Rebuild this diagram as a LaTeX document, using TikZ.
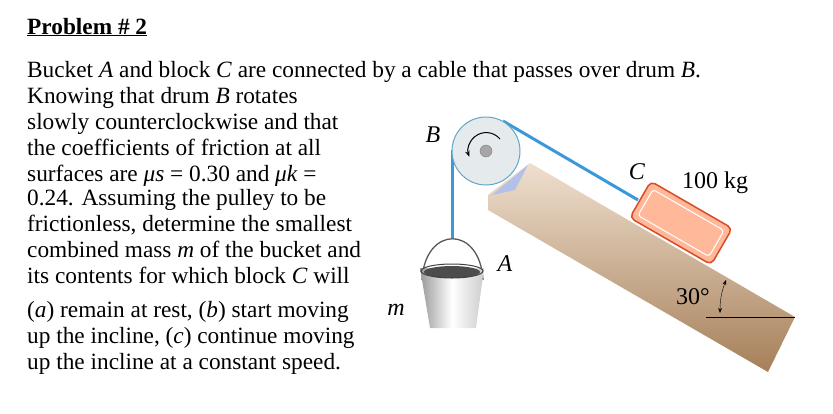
\documentclass[tikz,border=0pt]{standalone}
\usepackage{fontspec}
\setmainfont{Liberation Serif}
\usetikzlibrary{arrows.meta}
\begin{document}
\begin{tikzpicture}[x=1pt,y=-1pt,
  txt/.style={anchor=base west,inner sep=0,font=\fontsize{23.3}{26}\selectfont},
  lab/.style={inner sep=0,font=\fontsize{24}{28}\selectfont},
  rope/.style={draw=cyan!70!blue!80,line width=3pt}]
\useasboundingbox (0,0) rectangle (833,413);
\node[txt,font=\bfseries\fontsize{23.3}{26}\selectfont] (t0) at (27,34) {\underline{Problem \# 2}};
\node[txt] (t1) at (27,77) {Bucket \textit{A} and block \textit{C} are connected by a cable that passes over drum \textit{B}.};
\node[txt] (t2) at (27,103) {Knowing that drum \textit{B} rotates};
\node[txt] (t3) at (27,129) {slowly counterclockwise and that};
\node[txt] (t4) at (27,155) {the coefficients of friction at all};
\node[txt] (t5) at (27,181) {surfaces are \textit{μs} = 0.30 and \textit{μk} =};
\node[txt] (t6) at (27,205) {0.24. Assuming the pulley to be};
\node[txt] (t7) at (27,231) {frictionless, determine the smallest};
\node[txt] (t8) at (27,257) {combined mass \textit{m} of the bucket and};
\node[txt] (t9) at (27,283) {its contents for which block \textit{C} will};
\node[txt] (t10) at (27,317) {(\textit{a}) remain at rest, (\textit{b}) start moving};
\node[txt] (t11) at (27,343) {up the incline, (\textit{c}) continue moving};
\node[txt] (t12) at (27,369) {up the incline at a constant speed.};
% incline
\shade[left color=brown!25!white,right color=brown!60!gray,shading angle=0]
  (488,195) -- (530,163) -- (795,317) -- (768,372) -- (488,210) -- cycle;
\fill[cyan!40!blue!30] (492,195) -- (528,165) -- (515,190) -- cycle;
% block
\begin{scope}[shift={(681,223)},rotate=-30]
\draw[draw=brown!60!red,line width=1.5pt,fill=red!40!orange!40,rounded corners=5pt] (-47,-21) rectangle (47,21);
\draw[white,line width=1pt,rounded corners=3pt] (-41,-15) rectangle (41,15);
\end{scope}
% rope
\coordinate (rt) at (503,121);
\coordinate (rc) at (638,200);
\draw[rope] (rt) -- (rc);
\coordinate (rl) at (452,150);
\coordinate (rb) at (452,238);
\draw[rope] (rl) -- (rb);
% drum
\node[circle,draw=cyan!50!gray,fill=cyan!15!gray!20,line width=1pt,minimum size=68pt,inner sep=0] (drum) at (486,151) {};
\node[circle,fill=gray!70,draw=gray,minimum size=12pt,inner sep=0] (hub) at (486,151) {};
\draw[-{Stealth[length=6pt]},line width=1pt] (500,139) arc (-40:-200:18);
% bucket
\draw[gray!70!black,line width=1.3pt] (422,280) .. controls (425,225) and (480,225) .. (483,280);
\shade[left color=gray!80,right color=gray!40,middle color=white] (420,268) -- (484,268) -- (476,328) -- (430,328) -- cycle;
\fill[gray!60!black] (452,272) ellipse (28 and 6);
\draw[gray!50!black,line width=1pt] (452,271) ellipse (31 and 7);
% labels
\node[lab] (lB) at (433,135) {\textit{B}};
\node[lab] (lC) at (637,172) {\textit{C}};
\node[lab,anchor=west] (lkg) at (682,183) {100 kg};
\node[lab] (lA) at (505,264) {\textit{A}};
\node[lab] (lm) at (396,310) {\textit{m}};
\node[lab] (l30) at (693,297) {30°};
\coordinate (h1) at (706,317);
\coordinate (h2) at (795,317);
\draw (h1) -- (h2);
\draw[{Stealth[length=5pt]}-{Stealth[length=5pt]}] (720,313) to[bend left=10] (726,280);
\end{tikzpicture}
\end{document}
